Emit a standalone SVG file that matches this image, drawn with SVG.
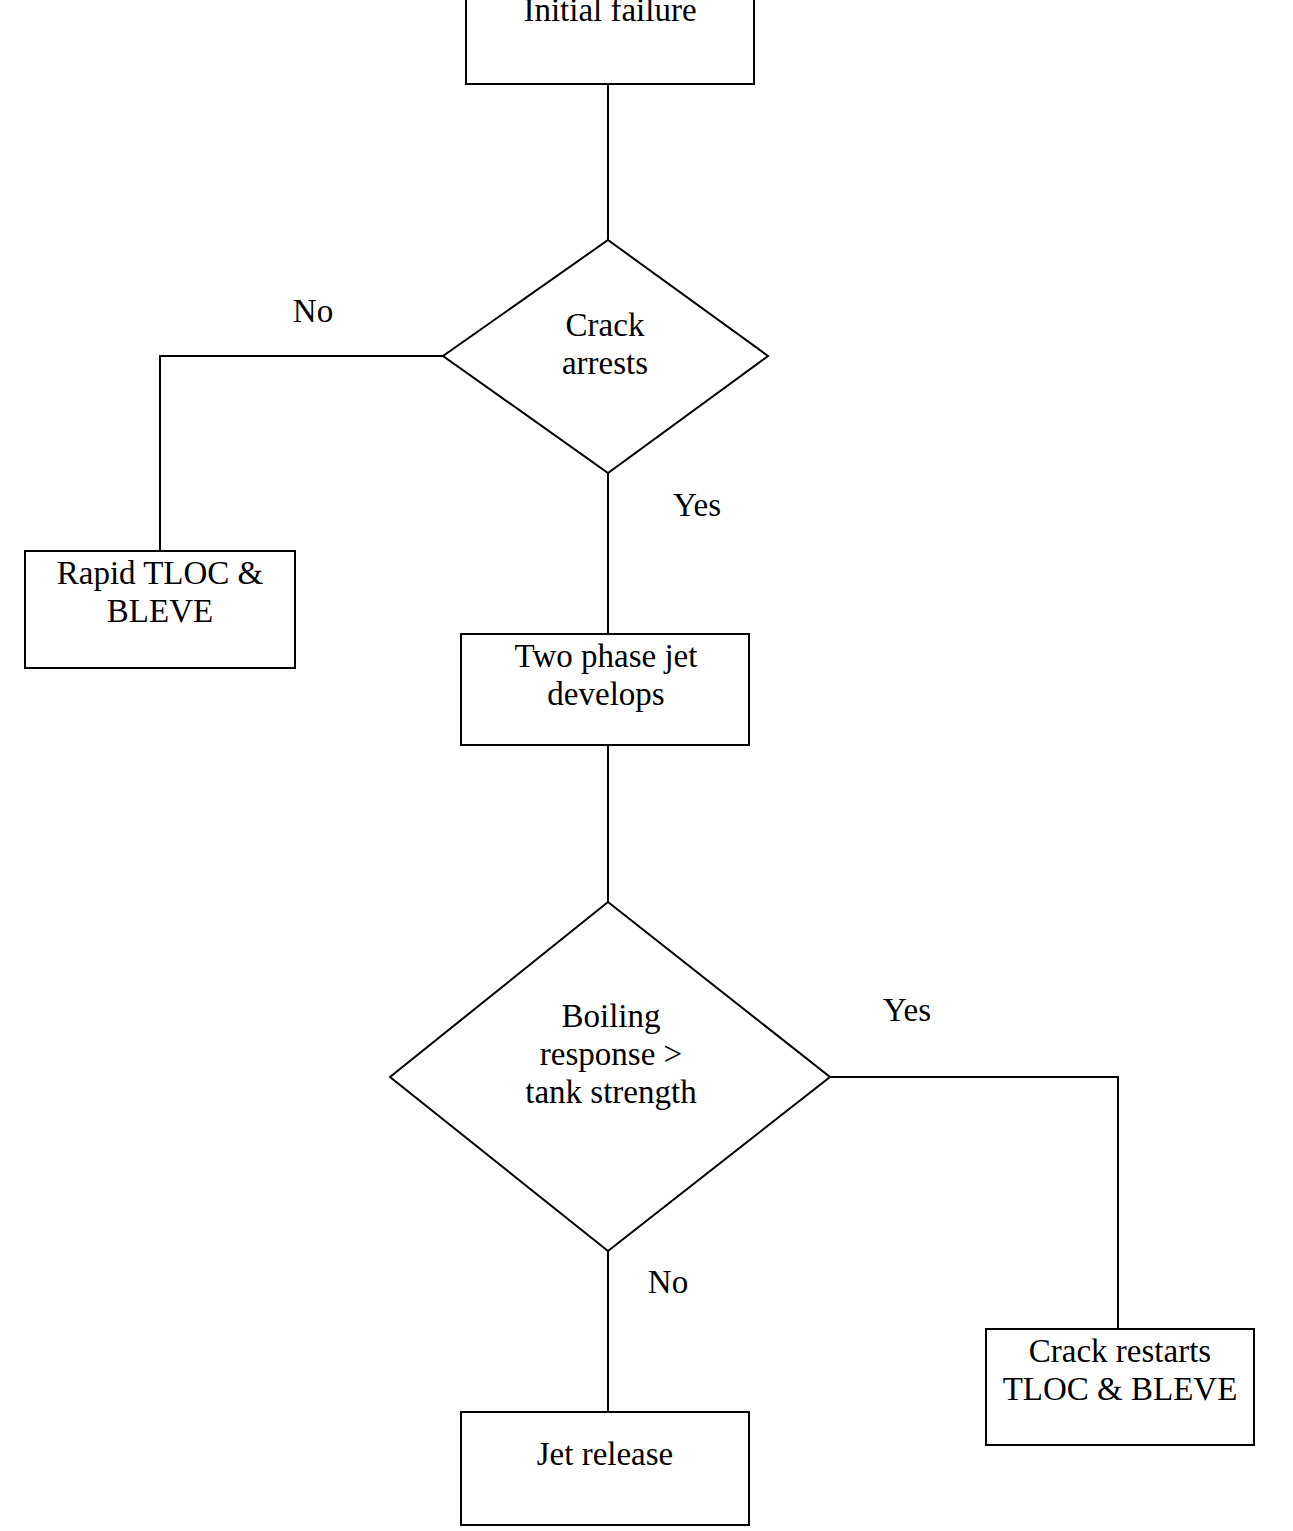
<svg xmlns="http://www.w3.org/2000/svg" width="1293" height="1531" viewBox="0 0 1293 1531">
<style>
.s{fill:#fff;stroke:#000;stroke-width:2}
.c{fill:none;stroke:#000;stroke-width:2}
text{font-family:"Liberation Serif",serif;font-size:33px;text-anchor:middle;fill:#000}
</style>
<rect width="1293" height="1531" fill="#fff"/>
<g id="connectors">
<path class="c" d="M608 84V240"/>
<path class="c" d="M443 356H160V551"/>
<path class="c" d="M608 473V634"/>
<path class="c" d="M608 745V902"/>
<path class="c" d="M830 1077H1118V1329"/>
<path class="c" d="M608 1251V1412"/>
<text x="313" y="322">No</text>
<text x="697" y="516">Yes</text>
<text x="907" y="1021">Yes</text>
<text x="668" y="1293">No</text>
</g>
<g id="initial"><rect class="s" x="466" y="-5" width="288" height="89"/><text x="610" y="21">Initial failure</text></g>
<g id="crack"><polygon class="s" points="608,240 768,356 608,473 443,356"/><text x="605" y="336">Crack</text><text x="605" y="374">arrests</text></g>
<g id="rapid"><rect class="s" x="25" y="551" width="270" height="117"/><text x="160" y="584">Rapid TLOC &amp;</text><text x="160" y="622">BLEVE</text></g>
<g id="twophase"><rect class="s" x="461" y="634" width="288" height="111"/><text x="606" y="667">Two phase jet</text><text x="606" y="705">develops</text></g>
<g id="boiling"><polygon class="s" points="608,902 830,1077 608,1251 390,1077"/><text x="611" y="1027">Boiling</text><text x="611" y="1065">response &gt;</text><text x="611" y="1103">tank strength</text></g>
<g id="restart"><rect class="s" x="986" y="1329" width="268" height="116"/><text x="1120" y="1362">Crack restarts</text><text x="1120" y="1400">TLOC &amp; BLEVE</text></g>
<g id="jet"><rect class="s" x="461" y="1412" width="288" height="113"/><text x="605" y="1465">Jet release</text></g>
</svg>
